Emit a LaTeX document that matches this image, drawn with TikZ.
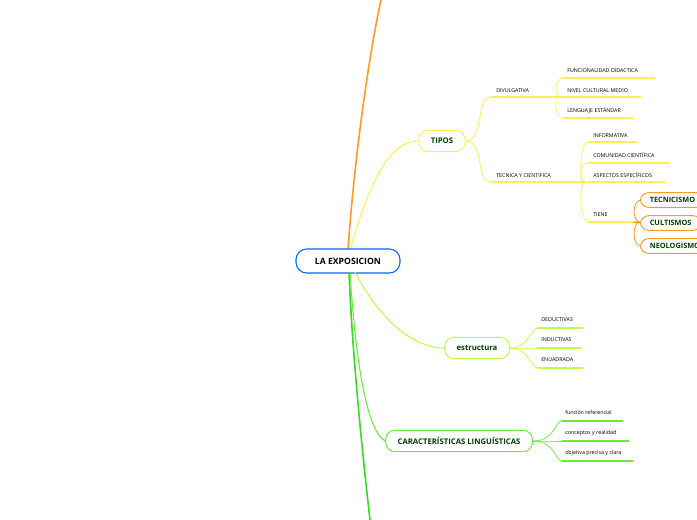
\documentclass[tikz,border=0pt]{standalone}
\usepackage{fontspec}
\setmainfont{Open Sans}
\begin{document}
\begin{tikzpicture}[x=0.75pt,y=-0.75pt,
  root/.style={draw=blue!60!cyan,line width=0.8pt,rounded corners=8pt,fill=white,minimum width=78pt,minimum height=18pt,font=\bfseries\fontsize{6.5}{7}\selectfont},
  topic/.style={line width=0.7pt,rounded corners=7pt,fill=white,minimum height=16pt,inner xsep=9pt,font=\bfseries\fontsize{5.8}{6}\selectfont,text=green!25!black},
  sub/.style={line width=0.7pt,rounded corners=6pt,fill=white,minimum height=11pt,inner ysep=1pt,inner xsep=7pt,font=\bfseries\fontsize{5.5}{6}\selectfont,text=green!25!black},
  leaf/.style={anchor=base west,font=\fontsize{4}{4}\selectfont,inner sep=0pt},
  ul/.style={line width=1pt}]
\definecolor{cY}{HTML}{FFEE55}
\definecolor{cO}{HTML}{FF9922}
\definecolor{cL}{HTML}{BBFF44}
\definecolor{cG}{HTML}{66EE33}
\definecolor{cB}{HTML}{33DD22}
\useasboundingbox (0,0) rectangle (697,520);
\begin{scope}
\clip (0,0) rectangle (697,520);
\coordinate (rt) at (348,250);
\coordinate (rb) at (349,272);
\coordinate (topO) at (381,0);
\coordinate (botG) at (370,520);
\draw[cO,line width=1.2pt] (rt) .. controls (355,150) and (370,50) .. (topO);
\draw[cB,line width=1.2pt] (rb) .. controls (352,350) and (362,450) .. (botG);
\node[topic,draw=cY] (tipos) at (442,141) {TIPOS};
\draw[cY,line width=0.8pt] (350,250) .. controls (370,180) and (390,141) .. (tipos.west);
\node[root] (root) at (348,261) {LA EXPOSICION};
\node[leaf] (div) at (496,93) {DIVULGATIVA};
\coordinate (divL) at (491,97); \coordinate (divR) at (563,97);
\draw[cY,ul] (divL) -- (divR);
\draw[cY,line width=0.6pt] (tipos.east) .. controls (485,141) and (475,97) .. (divL);
\node[leaf] (f1) at (567,73) {FUNCIONALIDAD DIDACTICA};
\node[leaf] (f2) at (567,93) {NIVEL CULTURAL MEDIO};
\node[leaf] (f3) at (567,113) {LENGUAJE ESTÁNDAR};
\foreach \y/\r in {78/655,97/641,118/633}{
  \draw[cY,ul] (563,\y) -- (\r,\y);
  \draw[cY,line width=0.5pt] (divR) .. controls (552,97) and (555,\y) .. (563,\y);}
\node[leaf] (tec) at (496,178) {TECNICA Y CIENTIFICA};
\coordinate (tecL) at (491,182); \coordinate (tecR) at (585,182);
\draw[cY,ul] (tecL) -- (tecR);
\draw[cY,line width=0.6pt] (tipos.east) .. controls (485,141) and (475,182) .. (tecL);
\node[leaf] (t1) at (593,138) {INFORMATIVA};
\node[leaf] (t2) at (593,158) {COMUNIDAD CIENTÍFICA};
\node[leaf] (t3) at (593,178) {ASPECTOS ESPECÍFICOS};
\node[leaf] (t4) at (593,217) {TIENE};
\foreach \y/\r in {142/637,163/670,182/665,222/640}{
  \draw[cY,ul] (588,\y) -- (\r,\y);
  \draw[cY,line width=0.5pt] (tecR) .. controls (578,182) and (580,\y) .. (588,\y);}
\coordinate (tieR) at (640,222);
\foreach \n/\y/\t in {tc/200/TECNICISMO,cu/223/CULTISMOS,ne/246/NEOLOGISMO}{
  \draw[cO,line width=0.6pt] (tieR) .. controls (632,222) and (632,\y) .. (641,\y);
  \node[sub,draw=cO,anchor=west] (\n) at (640,\y) {\t};}
\node[topic,draw=cL] (est) at (477,348) {estructura};
\draw[cL,line width=0.8pt] (355,272) .. controls (385,330) and (420,348) .. (est.west);
\node[leaf] (e1) at (541,322) {DEDUCTIVAS};
\node[leaf] (e2) at (541,342) {INDUCTIVAS};
\node[leaf] (e3) at (541,362) {ENUADRADA};
\foreach \y/\r in {328/583,348/582,368/583}{
  \draw[cL,ul] (538,\y) -- (\r,\y);
  \draw[cL,line width=0.5pt] (est.east) .. controls (530,348) and (530,\y) .. (538,\y);}
\node[topic,draw=cG] (car) at (459,441) {CARACTERÍSTICAS LINGUÍSTICAS};
\draw[cG,line width=0.8pt] (350,272) .. controls (355,350) and (365,430) .. (car.west);
\node[leaf] (c1) at (565,415) {función referencial};
\node[leaf] (c2) at (565,435) {conceptos y realidad};
\node[leaf] (c3) at (565,455) {objetiva precisa y clara};
\foreach \y/\r in {421/623,441/629,461/633}{
  \draw[cG,ul] (562,\y) -- (\r,\y);
  \draw[cG,line width=0.5pt] (car.east) .. controls (555,441) and (555,\y) .. (562,\y);}
\end{scope}
\end{tikzpicture}
\end{document}
